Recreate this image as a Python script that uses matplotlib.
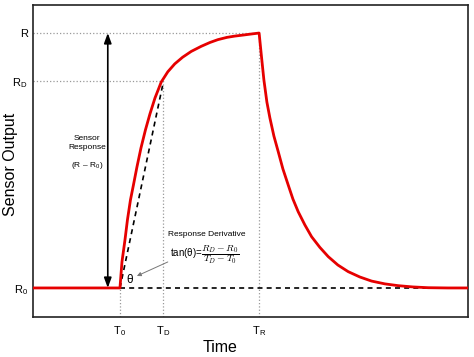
import matplotlib.pyplot as plt

plt.rcParams['font.family'] = ['Liberation Sans', 'DejaVu Sans']
plt.rcParams['mathtext.fontset'] = 'cm'

# response curve (time, output); R0 = 0, R = 1
rise_t = [0.0, 2.0, 2.046, 2.115, 2.172, 2.241, 2.310, 2.391, 2.483, 2.586,
          2.690, 2.805, 2.95, 3.10, 3.26, 3.44, 3.64, 3.87, 4.07, 4.25,
          4.46, 4.64, 4.83, 5.01, 5.2]
rise_y = [0.0, 0.0, 0.102, 0.188, 0.267, 0.345, 0.404, 0.475, 0.549, 0.620,
          0.683, 0.745, 0.808, 0.848, 0.879, 0.905, 0.928, 0.948, 0.963, 0.974,
          0.983, 0.988, 0.992, 0.996, 1.0]
decay_t = [5.253, 5.310, 5.379, 5.448, 5.540, 5.639, 5.747, 5.869, 5.977,
           6.099, 6.253, 6.407, 6.598, 6.789, 7.011, 7.248, 7.517, 7.786,
           8.092, 8.398, 8.736, 9.087, 9.540, 10.0]
decay_y = [0.910, 0.816, 0.729, 0.667, 0.596, 0.535, 0.467, 0.404, 0.349,
           0.299, 0.247, 0.201, 0.159, 0.123, 0.090, 0.064, 0.043, 0.027,
           0.016, 0.009, 0.004, 0.001, 0.0, 0.0]

t_marks = [2.0, 3.0, 5.2]
t_labels = [r'T$_\mathregular{0}$', r'T$_\mathregular{D}$', r'T$_\mathregular{R}$']
r_marks = [0.0, 0.81, 1.0]
r_labels = [r'R$_\mathregular{0}$', r'R$_\mathregular{D}$', 'R']

t0, td, tr = t_marks
r0, rd, r = r_marks
ymin, ymax = -0.114, 1.11

fig = plt.figure(figsize=(4.74, 3.57), dpi=100)
ax = fig.add_axes([0.0696, 0.112, 0.9174, 0.874])
ax.set_xlim(0, 10)
ax.set_ylim(ymin, ymax)

# guide lines
ax.plot([0, tr], [r, r], ':', color='#999999', lw=0.9)
ax.plot([0, td], [rd, rd], ':', color='#999999', lw=0.9)
for t, top in zip(t_marks, [r0, rd, r]):
    ax.plot([t, t], [ymin, top], ':', color='#999999', lw=0.9)

# baseline and slope
ax.plot([t0, 10], [r0, r0], '--', color='black', lw=1.2, dashes=(3, 2.5))
ax.plot([t0, td], [r0, rd], '--', color='black', lw=1.2, dashes=(3, 2.5))

ax.plot(rise_t + decay_t, rise_y + decay_y, color='#e60000', lw=2.0,
        solid_joinstyle='round', zorder=5)

# sensor response arrow
ax.annotate('', xy=(1.72, r), xytext=(1.72, r0),
            arrowprops=dict(arrowstyle='<|-|>,head_length=0.6,head_width=0.22',
                            color='black', lw=1.2, mutation_scale=10,
                            shrinkA=0, shrinkB=0))
ax.text(1.24, 0.569, 'Sensor\nResponse', ha='center', va='center',
        fontsize=6, linespacing=1.35)
ax.text(1.24, 0.482, '(R – R$_\\mathregular{0}$)', ha='center', va='center',
        fontsize=6)

ax.text(4.0, 0.208, 'Response Derivative', ha='center', va='center', fontsize=6)
ax.text(3.95, 0.13, r'tan(θ)=$\dfrac{R_D - R_0}{T_D - T_0}$', ha='center',
        va='center', fontsize=7)
ax.text(2.23, 0.031, 'θ', ha='center', va='center', fontsize=8.5)
ax.annotate('', xy=(2.39, 0.047), xytext=(3.1, 0.102),
            arrowprops=dict(arrowstyle='-|>', color='#777777', lw=0.7,
                            mutation_scale=6, shrinkA=0, shrinkB=0))

ax.set_xticks(t_marks)
ax.set_xticklabels(t_labels, fontsize=8)
ax.set_yticks(r_marks)
ax.set_yticklabels(r_labels, fontsize=8)
ax.tick_params(length=0)
ax.tick_params(axis='x', pad=5)
ax.tick_params(axis='y', pad=3.5)
ax.set_xlabel('Time', fontsize=11.5)
ax.set_ylabel('Sensor Output', fontsize=11.5)
ax.xaxis.set_label_coords(0.43, -0.075)
ax.yaxis.set_label_coords(-0.035, 0.49)
for s in ax.spines.values():
    s.set_linewidth(1.2)
    s.set_color('#222222')

plt.savefig('out.png', dpi=100)
